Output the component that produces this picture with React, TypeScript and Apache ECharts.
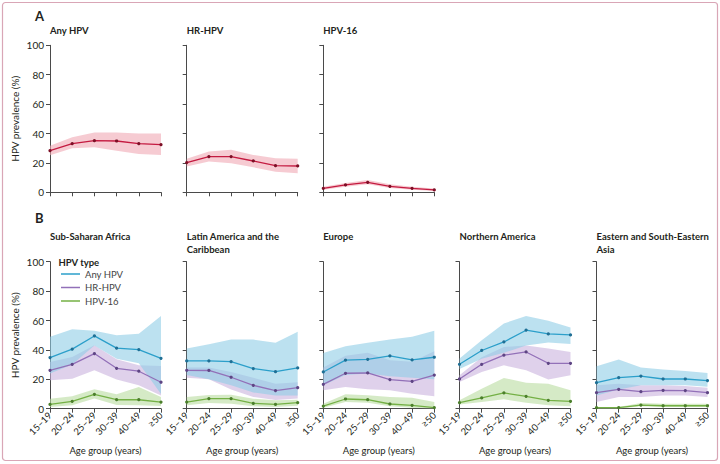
import React, { useEffect, useRef } from "react";
import * as echarts from "echarts";

const categories = ["15–19", "20–24", "25–29", "30–39", "40–49", "≥50"];
const yTicks = [0, 20, 40, 60, 80, 100];

// Panel A (overall)
const aAny = [28.3, 33.1, 35.1, 34.9, 33.1, 32.4];
const aAnyLo = [25.2, 30, 30.6, 28.3, 26, 25.4];
const aAnyHi = [31.7, 37.4, 40.6, 40.6, 40, 40];
const aHr = [20.2, 24.3, 24.3, 21.3, 18.1, 17.9];
const aHrLo = [17.5, 20.9, 19.7, 17, 14, 12.9];
const aHrHi = [22.9, 27.7, 29, 25.4, 23.1, 22.9];
const a16 = [2.7, 5.0, 6.8, 4.1, 2.7, 1.6];
const a16Lo = [1.8, 3.8, 5.4, 3, 1.8, 0.8];
const a16Hi = [3.8, 6.4, 8.4, 5.4, 3.8, 2.6];

// Panel B: Sub-Saharan Africa
const ssaAny = [34.8, 40.5, 49.5, 41.2, 40.2, 34.3];
const ssaAnyLo = [24, 30, 43, 34, 31, 10];
const ssaAnyHi = [49, 54, 53, 50, 51, 63];
const ssaHr = [26.1, 30.2, 37.5, 27.5, 25.5, 18];
const ssaHrLo = [19.3, 20.4, 26.1, 19.8, 15.9, 9];
const ssaHrHi = [31.8, 35.2, 43.2, 33.6, 29.5, 29];
const ssa16 = [2.9, 5, 9.8, 6.1, 6.1, 4.5];
const ssa16Lo = [1.1, 2.3, 7, 2.5, 2.3, 1.8];
const ssa16Hi = [6.8, 8.4, 13.2, 9.8, 14.7, 7.9];

// Latin America and the Caribbean
const latAny = [32.5, 32.5, 32, 27.3, 25.2, 27.7];
const latAnyLo = [23, 20, 16, 11, 9, 9];
const latAnyHi = [40.9, 43.9, 47, 47, 44.8, 52.3];
const latHr = [26.1, 26, 21.4, 15.9, 12.3, 14.3];
const latHrLo = [21, 20, 13, 8, 6, 7];
const latHrHi = [28, 28, 25, 21, 17, 18];
const lat16 = [4.5, 6.8, 6.8, 3.6, 2.9, 4.1];
const lat16Lo = [2.3, 3.9, 3.4, 1.6, 1.1, 2];
const lat16Hi = [7.9, 9.3, 9.5, 6.8, 5.7, 6.1];

// Europe
const eurAny = [25, 33, 33.6, 35.9, 33.2, 35];
const eurAnyLo = [16, 23, 24, 22, 21, 20];
const eurAnyHi = [37.9, 42.5, 44.8, 47.1, 48.9, 53];
const eurHr = [16.6, 24.1, 24.3, 19.8, 18.6, 22.9];
const eurHrLo = [12.5, 14.7, 13.2, 12.5, 10.2, 8.4];
const eurHrHi = [28, 36, 38, 33, 32, 39];
const eur16 = [1.8, 6.6, 6.1, 3.2, 2.3, 0.7];
const eur16Lo = [0.7, 4.5, 4.1, 1.6, 0.7, 0.2];
const eur16Hi = [3.4, 9.8, 9.1, 7.9, 7.5, 4.5];

// Northern America
const namAny = [30.2, 39.6, 45.4, 53.4, 50.9, 50.2];
const namAnyLo = [27, 34, 38, 43, 45, 44];
const namAnyHi = [34.1, 46.6, 58, 63, 59.8, 55.2];
const namHr = [20.2, 30.2, 36.4, 38.6, 30.9, 30.9];
const namHrLo = [18.2, 25, 29.5, 26.1, 19.8, 22.7];
const namHrHi = [22.7, 35, 42, 43, 40.9, 38.6];
const nam16 = [4.1, 7.3, 10.7, 8.4, 5.7, 5];
const nam16Lo = [2.9, 4.5, 6.4, 4.1, 2.3, 1.6];
const nam16Hi = [5.7, 13.6, 20.9, 17.7, 17, 12.5];

// Eastern and South-Eastern Asia
const easAny = [17.7, 21.1, 22.2, 20.2, 20.2, 19.1];
const easAnyLo = [9, 13, 16, 16, 16, 15];
const easAnyHi = [28.9, 33.4, 28, 26.6, 25.7, 24.3];
const easHr = [10.9, 13.2, 11.6, 12.5, 12.3, 10.9];
const easHrLo = [4.5, 7.9, 8, 9, 9, 8];
const easHrHi = [16, 17, 16, 16, 15.5, 14.3];
const eas16 = [0.7, 0.7, 2.5, 2, 2, 2];
const eas16Lo = [0.2, 0.2, 1.6, 1.1, 1.1, 1.1];
const eas16Hi = [1.1, 1.1, 3.9, 3.4, 3.4, 3.4];

const panelATitles = ["Any HPV", "HR-HPV", "HPV-16"];
const panelBTitles = [
  "Sub-Saharan Africa",
  "Latin America and the\nCaribbean",
  "Europe",
  "Northern America",
  "Eastern and South-Eastern\nAsia",
];
const typeNames = ["Any HPV", "HR-HPV", "HPV-16"];

const FONT = "Lato";
const TEXT = "#231f20";
const AXIS = "#4a4a4a";

const COLS = [50, 186.7, 323.3, 459.5, 596.5];
const GW = 111;
const A_TOP = 45.3;
const B_TOP = 261.7;
const GH = 147;

const STY = {
  any: { line: "#2b9fca", dot: "#1f6f95", band: "#8fcde6", op: 0.6 },
  hr: { line: "#9270b8", dot: "#5e4584", band: "#c9b3dd", op: 0.6 },
  h16: { line: "#74b045", dot: "#4b7f2b", band: "#b9dca0", op: 0.6 },
  a: { line: "#c41a40", dot: "#7d0f26", band: "#f0a9b4", op: 0.6 },
};

export default function App() {
  const ref = useRef<HTMLDivElement>(null);

  useEffect(() => {
    if (!ref.current) return;
    const chart = echarts.init(ref.current, null, { renderer: "svg" });

    const grids: any[] = [];
    const xAxes: any[] = [];
    const yAxes: any[] = [];
    const series: any[] = [];
    const titles: any[] = [];

    const addGrid = (col: number, top: number, isB: boolean) => {
      const gi = grids.length;
      grids.push({ left: COLS[col], top, width: GW, height: GH });
      xAxes.push({
        type: "category",
        gridIndex: gi,
        data: categories,
        boundaryGap: false,
        axisLine: { show: true, lineStyle: { color: AXIS, width: 1 } },
        axisTick: { show: true, length: 4, lineStyle: { color: AXIS } },
        axisLabel: {
          show: isB,
          rotate: 45,
          fontSize: 9.5,
          fontFamily: FONT,
          color: TEXT,
          margin: 5,
          interval: 0,
        },
        name: isB ? "Age group (years)" : "",
        nameLocation: "middle",
        nameGap: 37,
        nameTextStyle: { fontSize: 9.5, fontFamily: FONT, color: TEXT },
        splitLine: { show: false },
      });
      yAxes.push({
        type: "value",
        gridIndex: gi,
        min: yTicks[0],
        max: yTicks[yTicks.length - 1],
        interval: 20,
        axisLine: { show: true, lineStyle: { color: AXIS, width: 1 } },
        axisTick: { show: true, length: 4, lineStyle: { color: AXIS } },
        axisLabel: {
          show: col === 0,
          fontSize: 10,
          fontFamily: FONT,
          color: TEXT,
          margin: 6,
        },
        splitLine: { show: false },
        name: col === 0 ? "HPV prevalence (%)" : "",
        nameLocation: "middle",
        nameGap: 30,
        nameTextStyle: { fontSize: 10, fontFamily: FONT, color: TEXT },
      });
      return gi;
    };

    const addBand = (gi: number, key: string, lo: number[], hi: number[], sty: any, z: number) => {
      const stack = `band-${gi}-${key}`;
      series.push({
        type: "line",
        name: `${key}-lo-${gi}`,
        xAxisIndex: gi,
        yAxisIndex: gi,
        data: lo,
        stack,
        symbol: "none",
        lineStyle: { opacity: 0 },
        silent: true,
        z,
      });
      series.push({
        type: "line",
        name: `${key}-ci-${gi}`,
        xAxisIndex: gi,
        yAxisIndex: gi,
        data: hi.map((h, i) => +(h - lo[i]).toFixed(2)),
        stack,
        symbol: "none",
        lineStyle: { opacity: 0 },
        areaStyle: { color: sty.band, opacity: sty.op },
        silent: true,
        z,
      });
    };

    const addLine = (gi: number, name: string, vals: number[], sty: any) => {
      series.push({
        type: "line",
        name,
        xAxisIndex: gi,
        yAxisIndex: gi,
        data: vals,
        symbol: "circle",
        symbolSize: 3.2,
        lineStyle: { color: sty.line, width: 1.3 },
        itemStyle: { color: sty.dot },
        z: 10,
      });
    };

    // Panel A
    const aSets = [
      [aAny, aAnyLo, aAnyHi],
      [aHr, aHrLo, aHrHi],
      [a16, a16Lo, a16Hi],
    ];
    aSets.forEach((s, c) => {
      const gi = addGrid(c, A_TOP, false);
      addBand(gi, "a", s[1], s[2], STY.a, 2);
      addLine(gi, `Overall ${panelATitles[c]}`, s[0], STY.a);
      titles.push({
        text: panelATitles[c],
        left: COLS[c],
        top: 25,
        padding: 0,
        textStyle: { fontSize: 9.5, fontWeight: "bold", fontFamily: FONT, color: TEXT },
      });
    });

    // Panel B
    const bSets = [
      [ssaAny, ssaAnyLo, ssaAnyHi, ssaHr, ssaHrLo, ssaHrHi, ssa16, ssa16Lo, ssa16Hi],
      [latAny, latAnyLo, latAnyHi, latHr, latHrLo, latHrHi, lat16, lat16Lo, lat16Hi],
      [eurAny, eurAnyLo, eurAnyHi, eurHr, eurHrLo, eurHrHi, eur16, eur16Lo, eur16Hi],
      [namAny, namAnyLo, namAnyHi, namHr, namHrLo, namHrHi, nam16, nam16Lo, nam16Hi],
      [easAny, easAnyLo, easAnyHi, easHr, easHrLo, easHrHi, eas16, eas16Lo, eas16Hi],
    ];
    bSets.forEach((s, c) => {
      const gi = addGrid(c, B_TOP, true);
      addBand(gi, "h16", s[7], s[8], STY.h16, 2);
      addBand(gi, "hr", s[4], s[5], STY.hr, 3);
      addBand(gi, "any", s[1], s[2], STY.any, 4);
      addLine(gi, typeNames[2], s[6], STY.h16);
      addLine(gi, typeNames[1], s[3], STY.hr);
      addLine(gi, typeNames[0], s[0], STY.any);
      titles.push({
        text: panelBTitles[c],
        left: COLS[c],
        top: 229.5,
        padding: 0,
        textStyle: {
          fontSize: 9.5,
          fontWeight: "bold",
          fontFamily: FONT,
          color: TEXT,
          lineHeight: 13.5,
        },
      });
    });

    titles.push({
      text: "A",
      left: 35,
      top: 9,
      padding: 0,
      textStyle: { fontSize: 13, fontWeight: "bold", fontFamily: FONT, color: TEXT },
    });
    titles.push({
      text: "B",
      left: 35,
      top: 211,
      padding: 0,
      textStyle: { fontSize: 13, fontWeight: "bold", fontFamily: FONT, color: TEXT },
    });

    chart.setOption({
      animation: false,
      backgroundColor: "#ffffff",
      title: titles,
      grid: grids,
      xAxis: xAxes,
      yAxis: yAxes,
      series,
      legend: {
        orient: "vertical",
        left: 61,
        top: 269,
        padding: 0,
        itemGap: 3.5,
        itemWidth: 19,
        itemHeight: 1.5,
        icon: "rect",
        selectedMode: false,
        data: [
          { name: typeNames[0], itemStyle: { color: STY.any.line } },
          { name: typeNames[1], itemStyle: { color: STY.hr.line } },
          { name: typeNames[2], itemStyle: { color: STY.h16.line } },
        ],
        textStyle: { fontSize: 9.5, fontFamily: FONT, color: "#444", padding: [0, 0, 0, 0] },
      },
      graphic: [
        {
          type: "rect",
          shape: { x: 2.5, y: 2.5, width: 715, height: 458, r: 3 },
          style: { fill: "none", stroke: "#d9a6b6", lineWidth: 1.2 },
          silent: true,
        },
        {
          type: "text",
          x: 58.5,
          y: 257,
          style: {
            text: "HPV type",
            fontSize: 9.5,
            fontWeight: "bold",
            fontFamily: FONT,
            fill: TEXT,
          },
          silent: true,
        },
      ],
    });

    return () => chart.dispose();
  }, []);

  return (
    <div
      ref={ref}
      style={{ position: "fixed", left: 0, top: 0, width: 720, height: 464 }}
    />
  );
}
